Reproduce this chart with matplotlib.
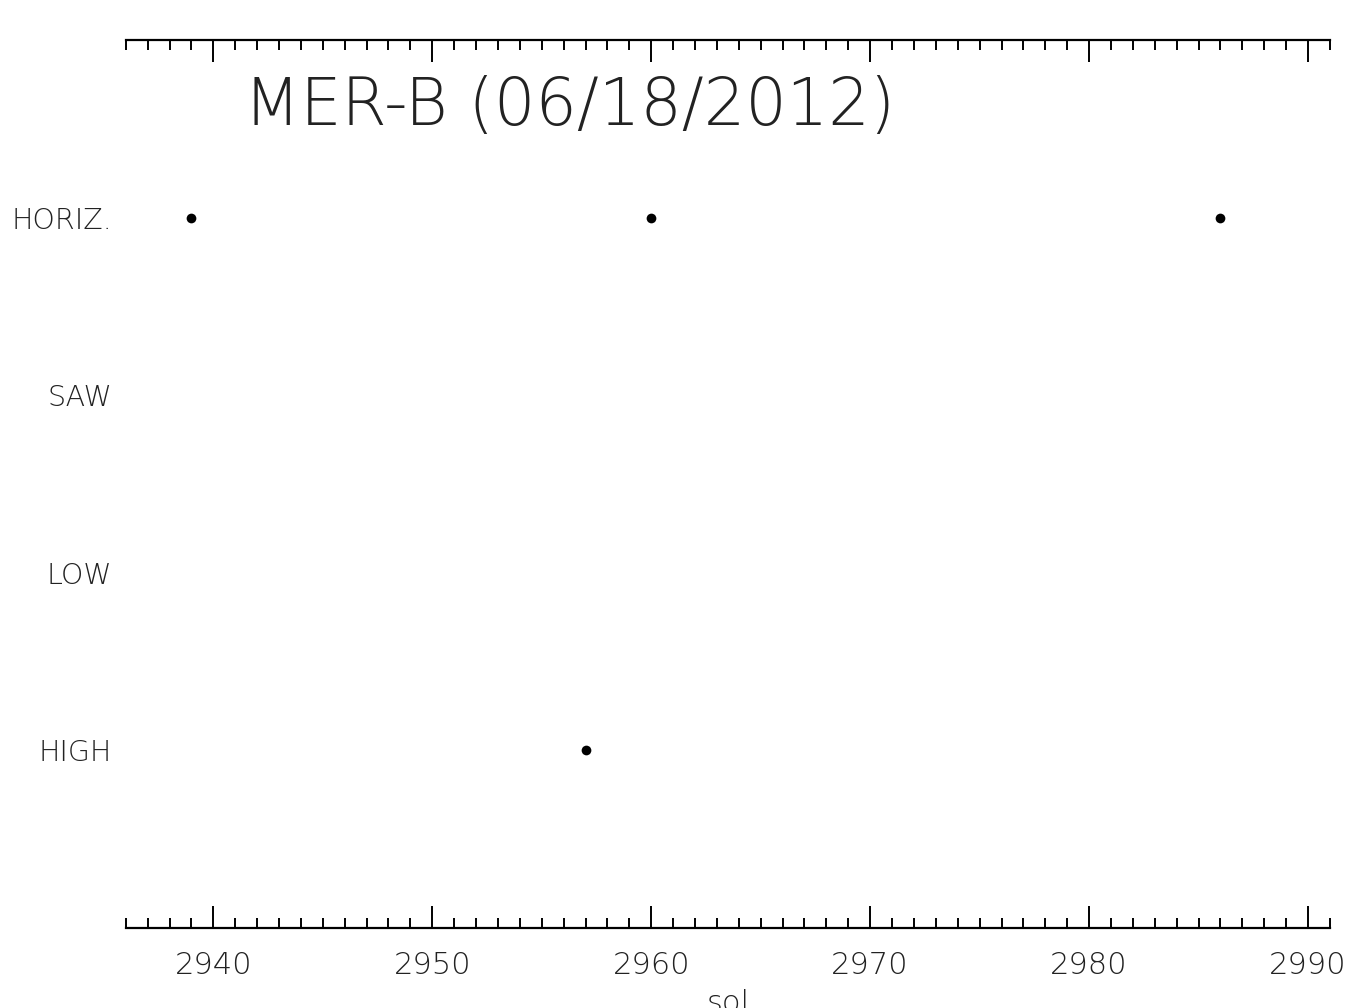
import numpy as np
import matplotlib.pyplot as plt

# rover observation modes by sol
modes = ['HIGH', 'LOW', 'SAW', 'HORIZ.']
horiz_sols = [2939, 2960, 2986]
saw_sols = []
low_sols = []
high_sols = [2957]

title = 'MER-B (06/18/2012)'
x_min, x_max = 2936, 2991

plt.rcParams['font.family'] = ['DejaVu Sans']

fig = plt.figure(figsize=(13.68, 10.08), dpi=100)
ax = fig.add_axes([0.0919, 0.0797, 0.8803, 0.8806])

series = [high_sols, low_sols, saw_sols, horiz_sols]
for i, sols in enumerate(series):
    if sols:
        ax.plot(sols, [i + 1] * len(sols), 'o', color='black',
                markersize=7, markeredgewidth=0)

ax.set_xlim(x_min, x_max)
ax.set_ylim(0, 5)

ax.spines['left'].set_visible(False)
ax.spines['right'].set_visible(False)
ax.spines['top'].set_linewidth(1.6)
ax.spines['bottom'].set_linewidth(1.6)

ax.set_xticks(np.arange(2940, 2991, 10))
ax.set_xticks(np.arange(x_min, x_max + 1, 1), minor=True)
ax.tick_params(axis='x', which='both', direction='in', top=True, bottom=True,
               width=1.4, labelsize=22, pad=17, colors='black')
ax.tick_params(axis='x', which='major', length=16)
ax.tick_params(axis='x', which='minor', length=7)
for lbl in ax.get_xticklabels():
    lbl.set_fontweight('light')
    lbl.set_color('#222222')

ax.set_yticks([1, 2, 3, 4])
ax.set_yticklabels(modes, fontsize=20.5, fontweight='light', color='#222222')
ax.tick_params(axis='y', which='both', length=0, pad=10)

ax.set_xlabel('sol', fontsize=22, fontweight='light', labelpad=6, color='#222222')

ax.text(0.0985, 0.925, title, transform=ax.transAxes, fontsize=47,
        fontweight='light', ha='left', va='center', color='#222222')

fig.savefig('out.png', dpi=100)
